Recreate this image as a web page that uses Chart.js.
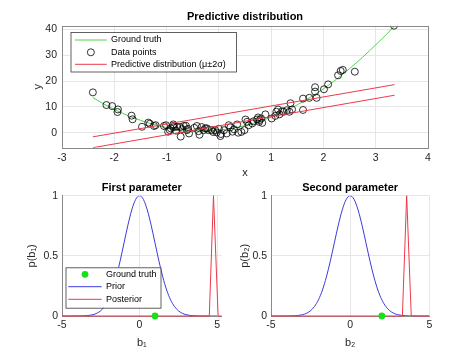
<!DOCTYPE html>
<html><head><meta charset="utf-8">
<script src="https://cdn.jsdelivr.net/npm/chart.js@4"></script>
<style>
html,body{margin:0;padding:0;background:#fff;}
#wrap{position:relative;width:474px;height:355px;background:#fff;overflow:hidden;}
canvas{position:absolute;}
</style></head>
<body><div id="wrap">
<canvas id="c1" width="474" height="180" style="left:0;top:0"></canvas>
<canvas id="c2" width="237" height="175" style="left:0;top:180px"></canvas>
<canvas id="c3" width="237" height="175" style="left:237px;top:180px"></canvas>
</div>
<script>
// ---------- data: top plot ----------
const dataX = [-2.41,-2.15,-2.04,-1.93,-1.94,-1.67,-1.65,-1.47,-1.35,-1.32,-1.24,-1.21,-1.05,-1.01,-0.97,-0.94,-0.92,-0.88,-0.87,-0.86,-0.82,-0.80,-0.74,-0.73,-0.70,-0.67,-0.63,-0.61,-0.59,-0.57,-0.47,-0.42,-0.39,-0.37,-0.33,-0.29,-0.26,-0.23,-0.20,-0.14,-0.11,-0.07,-0.04,0.00,0.03,0.04,0.10,0.15,0.19,0.22,0.26,0.29,0.35,0.37,0.43,0.49,0.51,0.54,0.57,0.64,0.66,0.73,0.75,0.77,0.78,0.81,0.83,0.89,1.01,1.08,1.10,1.13,1.16,1.21,1.24,1.30,1.35,1.37,1.40,1.61,1.61,1.73,1.84,1.84,1.87,2.01,2.09,2.28,2.33,2.37,2.60,3.35];
const dataY = [15.6,10.7,10.3,9.0,8.0,6.6,5.2,2.3,3.9,3.5,2.6,2.9,2.6,2.9,0.4,1.0,1.7,2.6,3.2,2.1,0.8,2.3,2.2,-1.5,1.4,2.6,2.7,1.0,1.5,-0.3,1.9,2.6,0.6,-0.8,2.2,1.0,1.7,1.7,1.0,1.0,0.3,1.0,0.1,1.5,-1.3,-0.5,1.0,-0.3,2.9,2.1,0.4,1.3,3.2,0,0.3,1.0,5.1,4.2,2.9,3.6,4.4,5.1,5.9,4.2,4.9,5.5,3.8,7.1,5.5,6.5,8.1,9.0,7.1,8.3,8.1,8.7,8.1,11.4,9.0,13.2,8.8,13.5,17.6,15.9,13.5,16.8,18.7,22.2,23.9,24.3,23.6,41.4];
const truthX = [-2.41,-2.2,-2,-1.75,-1.5,-1.25,-1,-0.75,-0.5,-0.25,0,0.25,0.5,0.75,1,1.25,1.5,1.75,2,2.25,2.5,2.75,3,3.2,3.36];
const truthY = [13.6,11.1,9.0,6.7,4.8,3.2,2.0,1.2,0.75,0.7,1.0,1.7,2.75,4.2,6.0,8.2,10.8,13.7,17.0,20.7,24.8,29.2,34.0,37.9,41.3];
const predX = [-2.41, 3.36];
const predUpper = [-1.6, 18.6];
const predLower = [-5.8, 14.5];
const topXTicks = [-3,-2,-1,0,1,2,3,4];
const topYTicks = [0,10,20,30,40];

// ---------- data: parameter plots ----------
const bGrid = [-5,-4.75,-4.5,-4.25,-4,-3.75,-3.5,-3.25,-3,-2.75,-2.5,-2.25,-2,-1.75,-1.5,-1.25,-1,-0.75,-0.5,-0.25,0,0.25,0.5,0.75,1,1.25,1.5,1.75,2,2.25,2.5,2.75,3,3.25,3.5,3.75,4,4.25,4.5,4.75,5];
const priorP = [0,0,0,0.0001,0.0003,0.0009,0.0022,0.0051,0.011,0.023,0.044,0.080,0.135,0.216,0.325,0.458,0.607,0.755,0.882,0.969,1,0.969,0.882,0.755,0.607,0.458,0.325,0.216,0.135,0.080,0.044,0.023,0.011,0.0051,0.0022,0.0009,0.0003,0.0001,0,0,0];
const post1B = [-5, 4.5, 4.77, 5.07, 5.3];
const post1P = [0, 0, 1, 0, 0];
const post2B = [-5, 3.3, 3.57, 3.86, 5];
const post2P = [0, 0, 1, 0, 0];
const truthB1 = [1];
const truthB2 = [2];
const paramXTicks = [-5,0,5];
const paramYTicks = [0,0.5,1];

// ---------- styling ----------
const FONT = "'Liberation Sans', Arial, Helvetica, sans-serif";
const GREEN_LINE = '#4fd24f';
const GREEN_DOT = '#18e018';
const RED = '#ec3a4a';
const BLUE = '#3b3bdc';
const GRID = '#e6e6e6';
const AXIS = '#8a8a8a';
const TXT = '#262626';

const xy = (xs, ys) => xs.map((x, i) => ({x, y: ys[i]}));
const setTicks = arr => s => { s.ticks = arr.map(v => ({value: v})); };
const plainLabel = v => String(v);

function baseOpts() {
  return {
    responsive: false, animation: false, devicePixelRatio: 1,
    events: [],
    plugins: { legend: {display: false}, tooltip: {enabled: false} },
    elements: { point: {radius: 0}, line: {borderWidth: 1} }
  };
}

// ---------- legend + box plugin ----------
function legendPlugin(cfg) {
  return {
    id: 'customLegend' + cfg.id,
    afterDraw(chart) {
      const ctx = chart.ctx;
      const a = chart.chartArea;
      ctx.save();
      if (cfg.box) {
        ctx.strokeStyle = AXIS; ctx.lineWidth = 1;
        ctx.strokeRect(Math.round(a.left) + 0.5, Math.round(a.top) + 0.5, Math.round(a.right - a.left), Math.round(a.bottom - a.top));
      }
      const L = cfg.legend;
      ctx.fillStyle = '#fff';
      ctx.fillRect(L.x, L.y, L.w, L.h);
      ctx.strokeStyle = '#3a3a3a'; ctx.lineWidth = 0.8;
      ctx.strokeRect(L.x + 0.5, L.y + 0.5, L.w, L.h);
      ctx.font = '9px ' + FONT;
      ctx.textBaseline = 'middle';
      ctx.textAlign = 'left';
      L.items.forEach(it => {
        if (it.type === 'line') {
          ctx.strokeStyle = it.color; ctx.lineWidth = 1;
          ctx.beginPath(); ctx.moveTo(L.lx0, it.y); ctx.lineTo(L.lx1, it.y); ctx.stroke();
        } else if (it.type === 'circle') {
          ctx.strokeStyle = '#000'; ctx.lineWidth = 0.8;
          ctx.beginPath(); ctx.arc((L.lx0 + L.lx1) / 2, it.y, 3.5, 0, Math.PI * 2); ctx.stroke();
        } else if (it.type === 'dot') {
          ctx.fillStyle = it.color;
          ctx.beginPath(); ctx.arc((L.lx0 + L.lx1) / 2, it.y, 3.4, 0, Math.PI * 2); ctx.fill();
        }
        ctx.fillStyle = '#000';
        ctx.fillText(it.text, L.tx, it.y);
      });
      ctx.restore();
    }
  };
}

// ---------- top chart ----------
{
  const o = baseOpts();
  o.layout = { padding: {left: 0, right: 46, top: 10, bottom: 0} };
  o.plugins.title = { display: true, text: 'Predictive distribution', fullSize: false, color: '#000',
    font: {family: FONT, size: 11, weight: 'bold'}, padding: {top: 0, bottom: 2.5} };
  o.scales = {
    x: { type: 'linear', min: -3, max: 4,
      afterBuildTicks: setTicks(topXTicks),
      afterFit: s => { s.height = 32.3; },
      grid: {color: GRID, drawTicks: false}, border: {display: false},
      ticks: {color: TXT, font: {family: FONT, size: 10.5}, padding: 4, maxRotation: 0, callback: plainLabel},
      title: {display: true, text: 'x', color: TXT, font: {family: FONT, size: 11}, padding: {top: 0, bottom: 0}} },
    y: { type: 'linear', min: -5.8, max: 41.4,
      afterBuildTicks: setTicks(topYTicks),
      afterFit: s => { s.width = 62; },
      grid: {color: GRID, drawTicks: false}, border: {display: false},
      ticks: {color: TXT, font: {family: FONT, size: 10.5}, padding: 5, callback: plainLabel},
      title: {display: true, text: 'y', color: TXT, font: {family: FONT, size: 11}, padding: {top: 31, bottom: 0}} }
  };
  new Chart(document.getElementById('c1'), {
    type: 'scatter',
    data: { datasets: [
      { label: 'Predictive upper', data: xy(predX, predUpper), showLine: true, borderColor: RED, borderWidth: 1, pointRadius: 0, order: 1 },
      { label: 'Predictive lower', data: xy(predX, predLower), showLine: true, borderColor: RED, borderWidth: 1, pointRadius: 0, order: 1 },
      { label: 'Data points', data: xy(dataX, dataY), showLine: false, pointRadius: 3.5, pointBorderWidth: 0.8,
        pointBorderColor: '#000', pointBackgroundColor: 'rgba(0,0,0,0)', order: 2 },
      { label: 'Ground truth', data: xy(truthX, truthY), showLine: true, borderColor: GREEN_LINE, borderWidth: 1,
        pointRadius: 0, cubicInterpolationMode: 'monotone', order: 3 }
    ]},
    options: o,
    plugins: [legendPlugin({ id: 1, box: true, legend: {
      x: 70.5, y: 32, w: 165.5, h: 39.5, lx0: 75, lx1: 106.7, tx: 111,
      items: [
        {type: 'line', color: GREEN_LINE, y: 40, text: 'Ground truth'},
        {type: 'circle', y: 52.3, text: 'Data points'},
        {type: 'line', color: RED, y: 64.3, text: 'Predictive distribution (\u03bc\u00b12\u03c3)'}
      ]}})]
  });
}

// ---------- parameter charts ----------
function paramChart(id, title, xlab, ylab, xmax, postB, postP, truthB, yW, padR, yTitlePad, legend) {
  const o = baseOpts();
  o.layout = { padding: {left: 0, right: padR, top: 0.9, bottom: 0} };
  o.plugins.title = { display: true, text: title, fullSize: false, color: '#000',
    font: {family: FONT, size: 11, weight: 'bold'}, padding: {top: 0, bottom: 1.6} };
  o.scales = {
    x: { type: 'linear', min: -5, max: xmax,
      afterBuildTicks: setTicks(paramXTicks),
      afterFit: s => { s.height = 39; },
      grid: {color: GRID, drawTicks: false}, border: {display: true, color: AXIS, width: 1},
      ticks: {color: TXT, font: {family: FONT, size: 10.5}, padding: 3, maxRotation: 0, callback: plainLabel},
      title: {display: true, text: xlab, color: TXT, font: {family: FONT, size: 11}, padding: {top: 0, bottom: 5.4}} },
    y: { type: 'linear', min: 0, max: 1,
      afterBuildTicks: setTicks(paramYTicks),
      afterFit: s => { s.width = yW; },
      grid: {color: GRID, drawTicks: false}, border: {display: true, color: AXIS, width: 1},
      ticks: {color: TXT, font: {family: FONT, size: 10.5}, padding: 4, callback: plainLabel},
      title: {display: true, text: ylab, color: TXT, font: {family: FONT, size: 11}, padding: {top: yTitlePad, bottom: 0}} }
  };
  const plugins = [];
  if (legend) plugins.push(legendPlugin({ id: 2, box: false, legend }));
  new Chart(document.getElementById(id), {
    type: 'scatter',
    data: { datasets: [
      { label: 'Ground truth', data: truthB.map(b => ({x: b, y: 0})), showLine: false, pointRadius: 3.4,
        pointBackgroundColor: GREEN_DOT, pointBorderWidth: 0, order: 1, clip: false },
      { label: 'Posterior', data: xy(postB, postP), showLine: true, borderColor: RED, borderWidth: 1, pointRadius: 0, order: 2, clip: 2 },
      { label: 'Prior', data: xy(bGrid, priorP), showLine: true, borderColor: BLUE, borderWidth: 1, pointRadius: 0,
        cubicInterpolationMode: 'monotone', order: 3 }
    ]},
    options: o,
    plugins
  });
}

paramChart('c2', 'First parameter', 'b\u2081', 'p(b\u2081)', 5.3, post1B, post1P, truthB1, 62, 237 - 221.7, 25, {
  x: 65.5, y: 87.3, w: 95, h: 40.4, lx0: 68.3, lx1: 101.7, tx: 106,
  items: [
    {type: 'dot', color: GREEN_DOT, y: 94.3, text: 'Ground truth'},
    {type: 'line', color: BLUE, y: 106.7, text: 'Prior'},
    {type: 'line', color: RED, y: 119.3, text: 'Posterior'}
  ]});
paramChart('c3', 'Second parameter', 'b\u2082', 'p(b\u2082)', 5, post2B, post2P, truthB2, 34, 237 - 192.3, 1.4, null);
</script>
</body></html>
